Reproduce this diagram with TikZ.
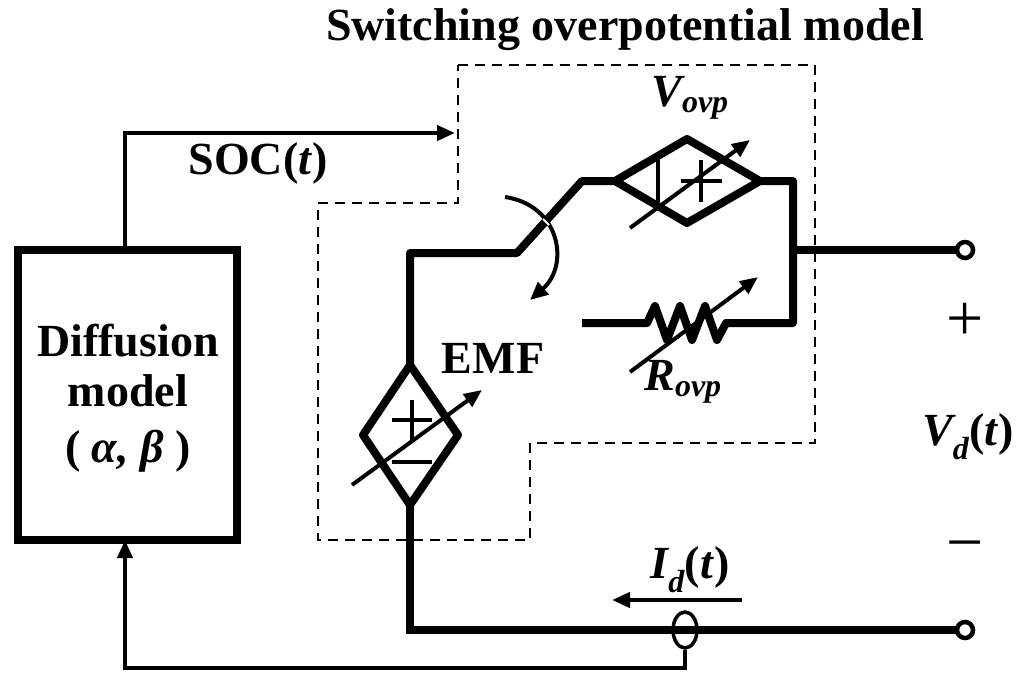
\documentclass[tikz,border=0pt]{standalone}
\usepackage{fontspec}
\setmainfont{Liberation Serif}
\usetikzlibrary{arrows.meta,shapes.geometric}
\begin{document}
\begin{tikzpicture}[x=1pt,y=-1pt,
 w/.style={line width=8pt},
 th/.style={line width=4.5pt},
 arr/.style={line width=4pt,-{Triangle[length=18pt,width=15pt]}},
 lbl/.style={font=\fontsize{46}{48}\selectfont\bfseries,inner sep=0pt},
 ilbl/.style={font=\fontsize{46}{48}\selectfont\bfseries\itshape,inner sep=0pt}]
\useasboundingbox (0,0) rectangle (1024,696);
% diffusion box
\node[draw,line width=8pt,minimum width=219pt,minimum height=290pt,inner sep=0pt] (diff) at (127.5,395) {};
\node[lbl,align=center] (dtxt) at (128,398) {Diffusion\\[2pt]model\\[8pt]( \textit{α, β} )};
\coordinate (dt) at (125,250);
\coordinate (db) at (125,540);
% SOC arrow
\coordinate (s1) at (125,133);
\coordinate (s2) at (455,133);
\draw[arr] (dt) -- (s1) -- (s2);
\node[lbl] (soc) at (258,163) {SOC(\textit{t})};
% dashed box
\draw[line width=2.8pt,dash pattern=on 10pt off 7pt] (458,65) -- (815,65) -- (815,443) -- (530,443) -- (530,540) -- (318,540) -- (318,203) -- (458,203) -- cycle;
\node[lbl] (title) at (625,30) {Switching overpotential model};
% EMF source
\draw[w,line join=round] (410,365) -- (458,435) -- (410,505) -- (363,435) -- cycle;
\draw[th] (392,420) -- (432,420) (412,400) -- (412,440) (392,462) -- (432,462);
\draw[arr] (352,485) -- (482,390);
\node[lbl] (emf) at (493,358) {EMF};
% wires
\coordinate (t1) at (965,250);
\coordinate (t2) at (965,630);
\draw[w,line join=round] (410,365) -- (410,253) -- (517,253) -- (582,181) -- (615,181);
\draw[w] (410,505) -- (410,630) -- (t2);
% switch arrow
\draw[line width=4pt,-{Triangle[length=18pt,width=16pt]}] (505,197) .. controls (560,205) and (570,265) .. (530,300);
\draw[white,line width=2pt] (543,219) -- (549,225);
% Vovp source
\draw[w,line join=round] (615,181) -- (687,139) -- (760,181) -- (687,223) -- cycle;
\draw[th] (658,160) -- (658,202) (681,181) -- (722,181) (701,160) -- (701,202);
\draw[arr] (630,228) -- (750,140);
\node[ilbl] (vovp) at (690,98) {V\textsubscript{\fontsize{32}{32}\selectfont ovp}};
\draw[w,line join=round] (760,181) -- (793,181) -- (793,323) -- (735,323)
  -- (726,323) -- (717,340) -- (705,306) -- (692,340) -- (680,306) -- (667,340) -- (655,306) -- (647,323) -- (582,323);
\draw[w] (793,250) -- (t1);
\draw[arr] (630,372) -- (758,277);
\node[ilbl] (rovp) at (683,382) {R\textsubscript{\fontsize{32}{32}\selectfont ovp}};
% terminals
\filldraw[fill=white,line width=4.5pt] (t1) circle (8);
\filldraw[fill=white,line width=4.5pt] (t2) circle (8);
\node[lbl,font=\fontsize{66}{66}\selectfont] (plus) at (965,322) {+};
\node[lbl] (vd) at (968,437) {\textit{V\textsubscript{\fontsize{32}{32}\selectfont d}}(\textit{t})};
\node[lbl,font=\fontsize{66}{66}\selectfont] (minus) at (965,553) {\textminus};
% current
\node[lbl] (id) at (690,570) {\textit{I\textsubscript{\fontsize{32}{32}\selectfont d}}(\textit{t})};
\coordinate (ia) at (742,600); \coordinate (ib) at (612,600);
\draw[arr] (ia) -- (ib);
\node[draw,ellipse,line width=3.5pt,minimum width=24pt,minimum height=36pt,inner sep=0pt] (ct) at (685,630) {};
% feedback
\coordinate (f1) at (685,668); \coordinate (f2) at (125,668);
\draw[arr] (ct.south) -- (f1) -- (f2) -- (db);
\end{tikzpicture}
\end{document}
